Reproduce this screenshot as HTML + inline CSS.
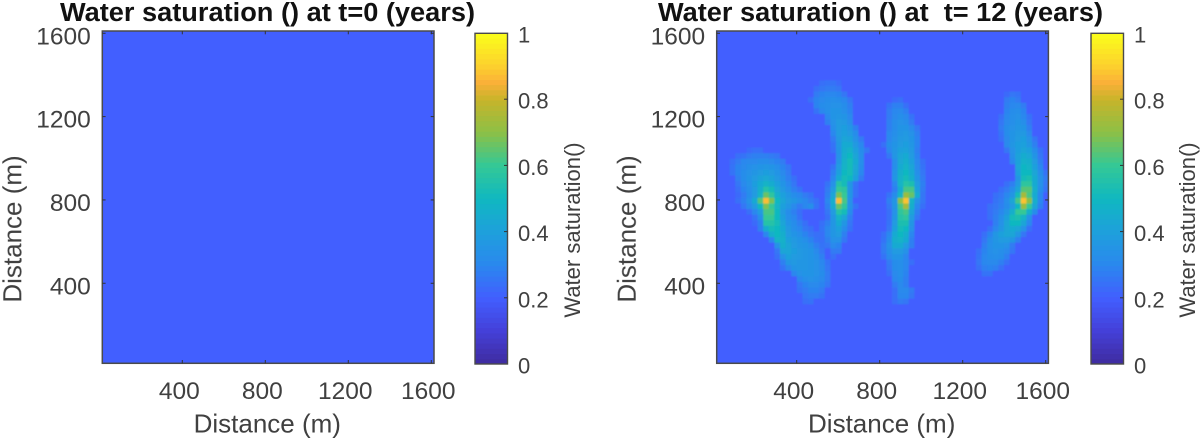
<!DOCTYPE html>
<html lang="en">
<head>
<meta charset="utf-8">
<title>Water saturation</title>
<style>
html,body{margin:0;padding:0;background:#fff;width:1200px;height:440px;overflow:hidden}
svg{display:block;font-family:"Liberation Sans",Arial,sans-serif}
.soft{filter:blur(.35px)}
</style>
</head>
<body>
<svg id="chart" xmlns="http://www.w3.org/2000/svg" width="1200" height="440" viewBox="0 0 1200 440">
<defs>
<clipPath id="clipL"><rect x="102.3" y="31" width="331.7" height="332.3"/></clipPath>
<clipPath id="clipR"><rect x="716.7" y="31" width="331.7" height="332.3"/></clipPath>
<filter id="cellBlur" x="-5%" y="-5%" width="110%" height="110%"><feGaussianBlur stdDeviation="0.7"/></filter>
</defs>
</svg>
<script>
// ---- chart data ----
const distanceTicks = [400, 800, 1200, 1600];
const colorbarTicks = [0, 0.2, 0.4, 0.6, 0.8, 1];
const colorbarTickLabels = ['0', '0.2', '0.4', '0.6', '0.8', '1'];
const titleInitial = 'Water saturation () at t=0 (years)';
const titleFinal = 'Water saturation () at  t= 12 (years)';
const initialSaturation = 0.2;
const backgroundSaturation = 0.2;
// colormap control values: level, then red, green, blue
const colormapLevels = [0, 0.1, 0.2, 0.3, 0.4, 0.5, 0.6, 0.7, 0.8, 0.85, 0.9, 1];
const colormapRed   = [63, 68, 66, 42, 30, 16, 52, 140, 200, 250, 252, 251];
const colormapGreen = [43, 64, 94, 136, 160, 184, 200, 192, 180, 176, 208, 255];
const colormapBlue  = [159, 216, 255, 238, 220, 192, 150, 70, 42, 56, 46, 26];
// saturation (percent) per grid row: [row, first column, values...]
const plumeOne = [
[21,5,23,24,24],
[22,3,24,25,27,28,28,28,27,26],
[23,2,24,27,30,31,31,32,32,31,29,27],
[24,2,25,29,31,33,34,35,36,35,33,29,26],
[25,2,25,29,32,34,36,38,39,38,35,31,27],
[26,3,28,32,35,38,41,43,41,37,33,28,24],
[27,3,26,31,34,39,44,48,45,40,35,30,26],
[28,3,24,29,33,38,46,56,52,43,37,33,28,25],
[29,3,23,27,32,38,48,66,58,46,40,36,32,30,27,25],
[30,3,24,28,34,44,64,87,68,50,42,38,36,33,30,27,24],
[31,4,26,31,38,50,68,60,48,40,36,31,27,30,33,25],
[32,5,24,30,38,62,62,50,38,32,28,24],
[33,6,25,33,60,60,50,40,33,30,25],
[34,6,23,28,56,56,52,42,35,32,28,24],
[35,7,28,45,52,50,44,37,33,30,26,24],
[36,8,30,46,50,46,38,35,33,29,26,24],
[37,9,30,48,47,40,37,35,33,29,25],
[38,10,34,46,42,38,36,35,33,28,25],
[39,10,26,42,42,39,37,36,35,31,26],
[40,10,24,34,40,38,37,36,35,33,28],
[41,11,28,36,37,36,36,35,34,30,25],
[42,11,25,30,35,36,36,35,34,31,26],
[43,13,30,34,35,35,34,32,27],
[44,14,30,33,34,33,31,27],
[45,14,26,29,31,31,29,26],
[46,14,25,27,29,29,27],
[47,15,26,27,27,25],
[48,15,24,25]
];
const plumeTwo = [
[9,18,24,25,25,23],
[10,17,24,26,27,27,26],
[11,17,27,29,30,30,29,26],
[12,16,24,29,31,32,33,32,30,26],
[13,17,29,32,33,34,34,32,28],
[14,17,25,30,33,35,35,33,29],
[15,19,30,35,36,35,31],
[16,19,28,34,38,37,33],
[17,20,33,38,39,36,28],
[18,20,30,38,40,38,32],
[19,20,27,37,42,41,34,27],
[20,20,25,36,44,44,37,30],
[21,20,24,35,45,47,40,32,26],
[22,21,34,46,50,42,33],
[23,21,36,47,52,44,33],
[24,20,25,38,48,52,43,32],
[25,20,28,40,50,52,42,30],
[26,20,30,44,52,50,40,27],
[27,19,25,34,56,52,36,25],
[28,19,27,38,60,58,36,24],
[29,19,28,42,68,60,36,24],
[30,19,30,46,87,62,34],
[31,19,28,44,66,58,34,25],
[32,19,26,38,56,52,32],
[33,19,24,36,48,42,28],
[34,18,24,28,36,44,36,26],
[35,18,25,30,36,40,32,25],
[36,18,24,30,36,38,28],
[37,18,24,28,34,34,26],
[38,19,26,31,29],
[39,20,27,27],
[40,20,24]
];
const plumeThree = [
[12,31,23,24],
[13,30,25,28,28,24],
[14,30,27,30,31,28],
[15,30,27,31,33,31,25],
[16,30,28,32,34,33,27],
[17,30,28,32,35,35,31,26],
[18,30,30,33,36,37,34,28],
[19,30,30,34,37,38,35,29],
[20,29,24,32,35,38,39,36,29],
[21,30,30,36,40,41,37,28],
[22,30,26,36,42,44,38,29],
[23,31,33,43,46,40,30,24],
[24,31,33,44,48,42,31,25],
[25,31,35,46,50,44,33,26],
[26,31,36,47,52,46,35,27],
[27,31,30,48,56,54,38,28],
[28,31,28,44,62,62,40,27],
[29,30,25,32,48,72,66,44,26],
[30,30,28,36,70,88,48,34,26],
[31,30,26,36,62,74,46,30,24],
[32,30,24,34,58,62,42,28],
[33,30,24,36,56,58,38,26],
[34,30,25,38,54,54,36],
[35,30,26,40,52,50,34],
[36,29,24,30,44,50,46,30],
[37,29,25,32,46,48,44,28],
[38,29,27,34,44,44,38,28],
[39,29,27,33,38,38,34],
[40,29,25,31,35,35,30],
[41,30,27,32,33,30,24],
[42,30,26,32,33,30],
[43,30,24,31,33,29],
[44,31,30,32,28],
[45,31,27,31,28],
[46,31,24,31,31,27],
[47,31,24,30,30,26],
[48,31,24,27,26]
];
const plumeFour = [
[11,51,23,26,25],
[12,51,27,29,27],
[13,51,28,30,31,27],
[14,51,29,32,33,29],
[15,50,24,30,33,34,30,25],
[16,50,26,31,33,35,33,26],
[17,50,27,32,34,36,35,28],
[18,50,25,32,35,37,37,31],
[19,50,24,31,35,38,39,34,26],
[20,51,31,36,39,40,36,28],
[21,51,26,34,39,42,40,32,25],
[22,52,33,41,45,43,35,26],
[23,52,30,41,47,46,38,28],
[24,53,42,49,48,40,30],
[25,53,40,50,50,42,33,25],
[26,53,36,52,54,44,34,27],
[27,51,24,28,38,58,58,44,34,26],
[28,50,24,27,32,42,64,64,46,33,25],
[29,49,24,26,30,36,52,74,62,44,30],
[30,49,25,27,33,42,62,88,70,46,30],
[31,48,24,26,28,32,38,50,72,60,42,28],
[32,48,24,27,30,36,46,60,60,46,32],
[33,48,24,28,33,40,52,54,48,34],
[34,49,28,34,42,50,50,42,30],
[35,48,24,30,36,42,44,42,34,24],
[36,47,24,29,36,40,42,42,36,26],
[37,47,26,32,36,38,38,36,28],
[38,47,28,33,35,35,34,27],
[39,46,24,29,33,34,33,31,26],
[40,46,25,30,32,33,32,28],
[41,46,26,30,31,31,28,24],
[42,46,24,28,29,28,24],
[43,47,25,25]
];

// ---- helpers ----
const NS = 'http://www.w3.org/2000/svg';
const root = document.getElementById('chart');
function mk(tag, attrs, parent) {
  const el = document.createElementNS(NS, tag);
  for (const k in attrs) el.setAttribute(k, attrs[k]);
  parent.appendChild(el);
  return el;
}
function colorOf(v) {
  const L = colormapLevels;
  let i = 0;
  while (i < L.length - 2 && v > L[i + 1]) i++;
  const t = Math.max(0, Math.min(1, (v - L[i]) / (L[i + 1] - L[i])));
  const c = a => Math.round(a[i] + (a[i + 1] - a[i]) * t);
  return 'rgb(' + c(colormapRed) + ',' + c(colormapGreen) + ',' + c(colormapBlue) + ')';
}
const COLS = 59, ROWS = 60, CELL = 5.6;
function buildGrid(base, plumes) {
  const g = [];
  for (let r = 0; r < ROWS; r++) g.push(new Array(COLS + 1).fill(base));
  plumes.forEach(p => p.forEach(row => {
    for (let i = 2; i < row.length; i++) {
      const c = row[1] + i - 2;
      if (g[row[0]] && c <= COLS) g[row[0]][c] = Math.max(g[row[0]][c], row[i] / 100);
    }
  }));
  return g;
}
const axisX = (left, v) => left - 3 + v * 0.2075;
const axisY = v => 366.6 - v * 0.20833;
const cbY = v => 364 - v * 331;
const INK = '#404040', LINE = '#4a4a4a';

function drawPanel(left, clipId, grid, title, titleX, titleW, prefix) {
  const panel = mk('g', {}, root);
  
  

  const t = mk('text', {x: titleX, y: 21, 'font-size': 25.5, 'font-weight': 'bold', fill: '#111', textLength: titleW, lengthAdjust: 'spacingAndGlyphs', 'xml:space': 'preserve', class: 'soft'}, panel);
  
  
  t.style.whiteSpace = 'pre';
  t.textContent = title;

  const clip = mk('g', {'clip-path': 'url(#' + clipId + ')'}, panel);
  
  
  const bg = mk('rect', {x: left, y: 31, width: 332, height: 333, fill: colorOf(backgroundSaturation)}, clip);
  
  
  const cells = mk('g', {filter: 'url(#cellBlur)'}, clip);
  const ox = left + 1.7, oy = 29.9;
  grid.forEach((row, r) => row.forEach((v, c) => {
    const cell = mk('rect', {x: ox + c * CELL, y: oy + r * CELL, width: CELL + 0.4, height: CELL + 0.4, fill: colorOf(v)}, cells);
    
    
  }));

  const frame = mk('rect', {x: left, y: 31, width: 331.7, height: 332.3, fill: 'none', stroke: LINE, 'stroke-width': 1.5}, panel);
  
  

  distanceTicks.forEach(v => {
    const x = axisX(left, v), y = axisY(v);
    [[x, 363.3, x, 360], [x, 31, x, 34.3], [left, y, left + 3.3, y], [left + 331.7, y, left + 328.4, y]].forEach(s => {
      const tick = mk('line', {x1: s[0], y1: s[1], x2: s[2], y2: s[3], stroke: '#333', 'stroke-width': 1}, panel);
      
      
    });
    const xl = mk('text', {x: x - 3, y: 399, 'font-size': 24.5, fill: INK, 'text-anchor': 'middle', class: 'soft'}, panel);
    
    
    xl.textContent = v;
    const yl = mk('text', {x: left - 11.5, y: y + 11, 'font-size': 24.5, fill: INK, 'text-anchor': 'end', class: 'soft'}, panel);
    
    
    yl.textContent = v;
  });

  const xt = mk('text', {x: left + 165, y: 432.5, 'font-size': 26, fill: INK, 'text-anchor': 'middle', class: 'soft'}, panel);
  
  
  xt.textContent = 'Distance (m)';
  const yt = mk('text', {x: 0, y: 0, 'font-size': 26, fill: INK, 'text-anchor': 'middle', transform: 'translate(' + (left - 81) + ',229) rotate(-90)', class: 'soft'}, panel);
  
  
  yt.textContent = 'Distance (m)';
}

function drawColorbar(cx, labelX, prefix) {
  const bar = mk('g', {}, root);
  
  
  for (let i = 0; i < 64; i++) {
    const v0 = i / 64, v1 = (i + 1) / 64;
    const s = mk('rect', {x: cx, y: cbY(v1), width: 32.5, height: cbY(v0) - cbY(v1) + 0.4, fill: colorOf((v0 + v1) / 2)}, bar);
    
    
  }
  const f = mk('rect', {x: cx, y: 33.3, width: 32.5, height: 330.7, fill: 'none', stroke: LINE, 'stroke-width': 1.4}, bar);
  
  
  colorbarTicks.forEach((v, i) => {
    const y = cbY(v);
    if (v > 0 && v < 1) {
      const tick = mk('line', {x1: cx + 32.5, y1: y, x2: cx + 29, y2: y, stroke: '#333', 'stroke-width': 1}, bar);
      
      
    }
    const lb = mk('text', {x: cx + 43, y: y + 9.5, 'font-size': 22, fill: INK, class: 'soft'}, bar);
    
    
    lb.textContent = colorbarTickLabels[i];
  });
  const lab = mk('text', {x: 0, y: 0, 'font-size': 22, fill: INK, 'text-anchor': 'middle', transform: 'translate(' + labelX + ',230) rotate(-90)', class: 'soft'}, bar);
  
  
  lab.textContent = 'Water saturation()';
}

drawPanel(102.3, 'clipL', buildGrid(initialSaturation, []), titleInitial, 60, 415, 'initial');
drawColorbar(475, 580, 'initial');
drawPanel(716.7, 'clipR', buildGrid(backgroundSaturation, [plumeOne, plumeTwo, plumeThree, plumeFour]), titleFinal, 658, 445, 'final');
drawColorbar(1091, 1195, 'final');
</script>
</body>
</html>
